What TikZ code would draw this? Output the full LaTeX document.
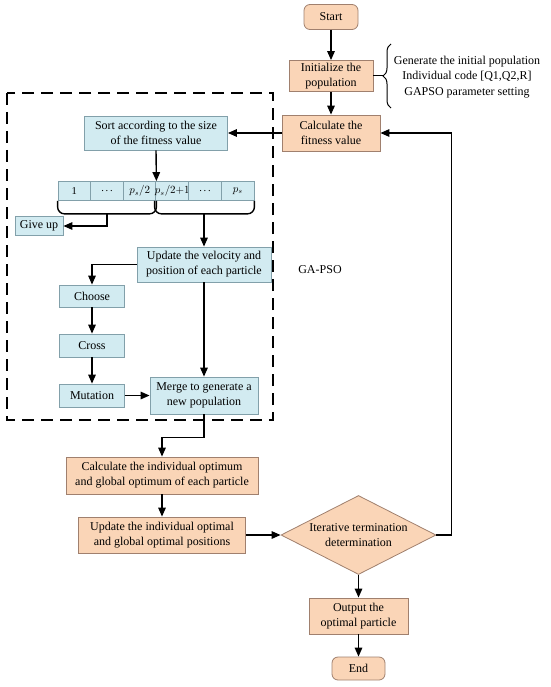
\documentclass[tikz,border=0pt]{standalone}
\usepackage{fontspec}
\setmainfont{Liberation Serif}
\usetikzlibrary{arrows.meta,shapes.geometric,decorations.pathreplacing}
\definecolor{peach}{RGB}{250,213,183}
\definecolor{peachline}{RGB}{160,128,110}
\definecolor{icy}{RGB}{210,235,241}
\definecolor{icyline}{RGB}{130,160,170}

\begin{document}
\begin{tikzpicture}[
	x=1pt,y=-1pt,
	font=\fontsize{12}{15}\selectfont,
	box/.style={draw,rectangle,align=center,inner sep=1pt,line width=0.8pt},
	outer/.style={box,fill=peach,draw=peachline},
	inner/.style={box,fill=icy,draw=icyline},
	term/.style={outer,rounded corners=6pt},
	cell/.style={draw=icyline,fill=icy,line width=0.8pt,minimum width=32.67pt,minimum height=19pt,inner sep=0pt,font=\fontsize{10.5}{13}\selectfont},
	decision/.style={draw=peachline,fill=peach,line width=0.8pt,diamond,aspect=1.96,minimum width=155pt,minimum height=79pt,inner sep=0pt,align=center},
	arr/.style={-{Triangle[length=9pt,width=7.5pt]},line width=1.4pt},
	link/.style={line width=1.4pt}
	]
	\useasboundingbox (0,0) rectangle (550,687);
	
	\node[term,minimum width=54pt,minimum height=25pt] (start) at (331,17) {Start};
	\node[outer,minimum width=84pt,minimum height=31pt] (init) at (331,76) {Initialize the\\population};
	\node[outer,minimum width=98pt,minimum height=36pt] (calc) at (331,133) {Calculate the\\fitness value};
	
	% Parametri iniziali
	\node[align=center,font=\fontsize{12}{15.5}\selectfont] (note) at (467,77) {Generate the initial population\\Individual code [Q1,Q2,R]\\GAPSO parameter setting};
	\draw[decorate,decoration={brace,amplitude=8pt},line width=1pt] (391,108) -- (391,44);
	\coordinate (tip) at (383,76);
	\draw[line width=1pt] (init.east) -- (tip);
	
	% Blocco GA-PSO
	\draw[line width=1.2pt,dash pattern=on 12pt off 7pt] (7,93) rectangle (273,420);
	\node (gapso) at (320,270) {GA-PSO};
	\node[inner,minimum width=143pt,minimum height=34pt] (sort) at (156,133) {Sort according to the size\\of the fitness value};
	\foreach \lab [count=\i] in {1,{.\,.\,.},{$p_s/2$},{$p_s/2{+}1$},{.\,.\,.},{$p_s$}}
		\node[cell] (c\i) at ({58+32.67*(\i-0.5)},191) {\lab};
	\draw[link,rounded corners=7pt] (c1.south west) -- ([yshift=-13pt]c1.south west) -- ([yshift=-13pt]c3.south east) -- (c3.south east);
	\draw[link,rounded corners=7pt] (c4.south west) -- ([yshift=-13pt]c4.south west) -- ([yshift=-13pt]c6.south east) -- (c6.south east);
	\coordinate (lb) at (107,213);
	\coordinate (rb) at (204,213);
	
	\node[inner,minimum width=48pt,minimum height=19pt] (giveup) at (39,226) {Give up};
	\node[inner,minimum width=134pt,minimum height=35pt] (upd) at (204,264.5) {Update the velocity and\\position of each particle};
	\node[inner,minimum width=65pt,minimum height=22pt] (choose) at (92,296) {Choose};
	\node[inner,minimum width=65pt,minimum height=23pt] (cross) at (92,345.5) {Cross};
	\node[inner,minimum width=65pt,minimum height=23pt] (mut) at (92,395.5) {Mutation};
	\node[inner,minimum width=108pt,minimum height=37pt] (merge) at (204,395.5) {Merge to generate a\\new population};
	
	\draw[arr] (calc) -- (sort);
	\draw[arr] (sort.south) -- (c3.north east);
	\draw[arr] (lb) |- (giveup.east);
	\draw[arr] (rb) -- (upd);
	\draw[arr] (upd.west) -| (choose.north);
	\draw[arr] (choose) -- (cross);
	\draw[arr] (cross) -- (mut);
	\draw[arr] (mut) -- (merge);
	\draw[arr] (upd) -- (merge);
	
	% Parte finale
	\node[outer,minimum width=192pt,minimum height=37pt] (best) at (162,475.5) {Calculate the individual optimum\\and global optimum of each particle};
	\node[outer,minimum width=167pt,minimum height=36pt] (renew) at (162,535) {Update the individual optimal\\and global optimal positions};
	\node[decision] (judge) at (358.5,535) {Iterative termination\\determination};
	\node[outer,minimum width=99pt,minimum height=36pt] (output) at (358.5,616) {Output the\\optimal particle};
	\node[term,minimum width=53pt,minimum height=23pt] (end) at (358.5,668.5) {End};
	
	\draw[arr] (start) -- (init);
	\draw[arr] (init) -- (calc);
	\draw[arr] (merge.south) -- ++(0,23) -| (best.north);
	\draw[arr] (best) -- (renew);
	\draw[arr] (renew) -- (judge);
	\draw[arr] (judge.east) -- ++(15,0) |- (calc.east);
	\draw[arr] (judge) -- (output);
	\draw[arr] (output) -- (end);
	
\end{tikzpicture}
\end{document}
